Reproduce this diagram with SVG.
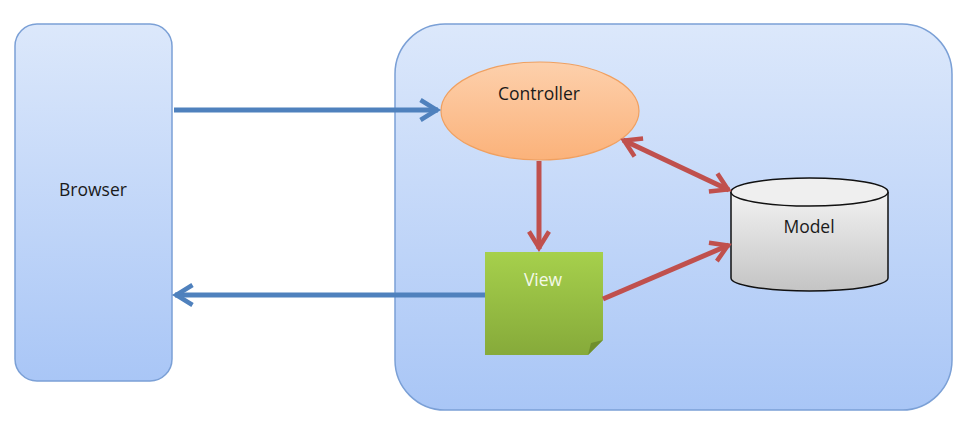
<svg xmlns="http://www.w3.org/2000/svg" width="962" height="422" viewBox="0 0 962 422">
<style>
.lbl{font-family:"Open Sans","Liberation Sans",sans-serif;font-size:17.5px;fill:#1a1a1a;text-anchor:middle}
.blue{stroke:#4f81bd;stroke-width:5;fill:none}
.red{stroke:#c0504d;stroke-width:5;fill:none}
</style>
<defs>
<linearGradient id="bg" x1="0" y1="0" x2="0" y2="1"><stop offset="0" stop-color="#dce8fb"/><stop offset="1" stop-color="#a9c6f6"/></linearGradient>
<linearGradient id="og" x1="0" y1="0" x2="0" y2="1"><stop offset="0" stop-color="#fdd0ac"/><stop offset="1" stop-color="#fbb27a"/></linearGradient>
<linearGradient id="gg" x1="0" y1="0" x2="0" y2="1"><stop offset="0" stop-color="#a6d04c"/><stop offset="1" stop-color="#86aa3a"/></linearGradient>
<linearGradient id="mg" x1="0" y1="0" x2="0" y2="1"><stop offset="0" stop-color="#f2f2f2"/><stop offset="1" stop-color="#c4c4c4"/></linearGradient>
<marker id="ab" viewBox="0 0 10 10" refX="8.5" refY="5" markerWidth="5" markerHeight="5" orient="auto-start-reverse" markerUnits="strokeWidth"><path d="M1.5,1 L8,5 L1.5,9" fill="none" stroke="#4f81bd" stroke-width="1.8"/></marker>
<marker id="ar" viewBox="0 0 10 10" refX="8.5" refY="5" markerWidth="5" markerHeight="5" orient="auto-start-reverse" markerUnits="strokeWidth"><path d="M1.5,1 L8,5 L1.5,9" fill="none" stroke="#c0504d" stroke-width="1.8"/></marker>
</defs>
<g id="app"><rect x="395" y="24" width="557" height="386" rx="50" fill="url(#bg)" stroke="#7ba0d6" stroke-width="1.5"/></g>
<g id="browser"><rect x="15" y="24" width="157" height="357" rx="22" fill="url(#bg)" stroke="#7ba0d6" stroke-width="1.5"/><text class="lbl" x="93" y="196">Browser</text></g>
<g id="controller"><ellipse cx="540" cy="111" rx="99" ry="49" fill="url(#og)" stroke="#f0a060" stroke-width="1.2"/><text class="lbl" x="539" y="100">Controller</text></g>
<g id="model"><path d="M731,192 V278 A78.5,13 0 0 0 888,278 V192" fill="url(#mg)" stroke="#111" stroke-width="1.5"/><ellipse cx="809.5" cy="192" rx="78.5" ry="14" fill="#efefef" stroke="#111" stroke-width="1.5"/><text class="lbl" x="809" y="233">Model</text></g>
<g id="view"><path d="M485,252 H603 V340 L588,355 H485 Z" fill="url(#gg)"/><path d="M588,355 L591,343 L603,340 Z" fill="#6f8f2e"/><text class="lbl" x="543" y="286" style="fill:#f4f9e8">View</text></g>
<g id="connectors">
<line class="blue" x1="174" y1="110" x2="438" y2="110" marker-end="url(#ab)"/>
<line class="blue" x1="485" y1="295" x2="175" y2="295" marker-end="url(#ab)"/>
<line class="red" x1="539" y1="161" x2="539" y2="249" marker-end="url(#ar)"/>
<line class="red" x1="623" y1="140" x2="729" y2="190" marker-start="url(#ar)" marker-end="url(#ar)"/>
<line class="red" x1="603" y1="299" x2="729" y2="245" marker-end="url(#ar)"/>
</g>
</svg>
